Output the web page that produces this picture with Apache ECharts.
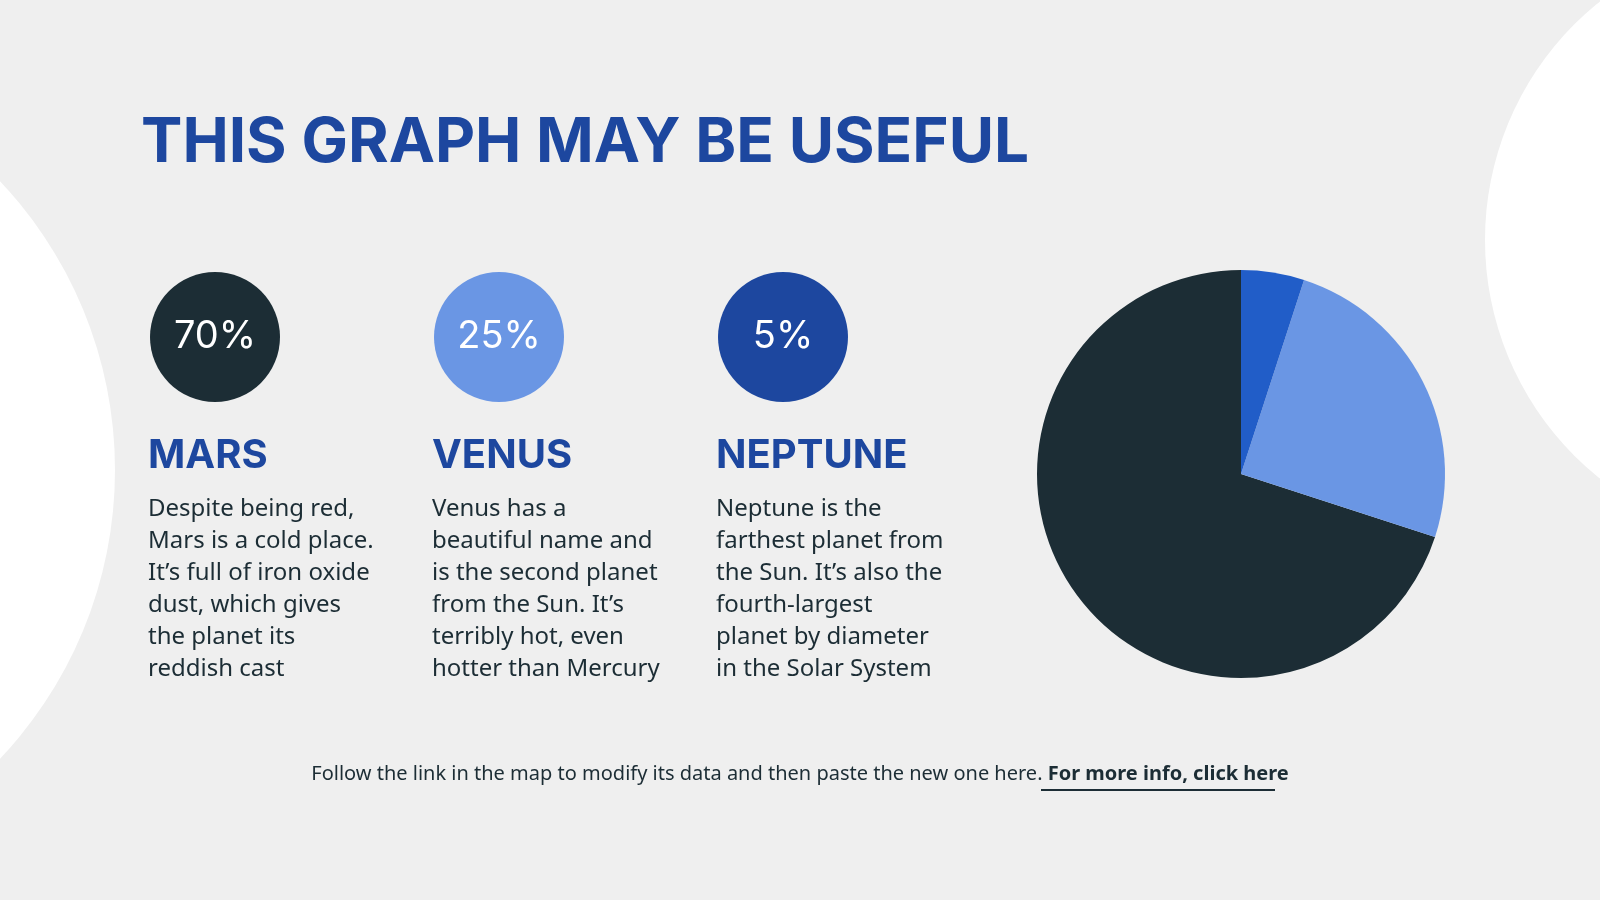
<!DOCTYPE html>
<html lang="en">
<head>
  <meta charset="UTF-8">
  <title>This graph may be useful</title>
  <script src="https://cdn.jsdelivr.net/npm/echarts@6/dist/echarts.min.js"></script>
  <style>
    html, body { margin: 0; padding: 0; background: #efefef; }
    #main { width: 1600px; height: 900px; }
  </style>
</head>
<body>
  <div id="main"></div>
  <script type="text/javascript">
    var planets = ['Mars', 'Venus', 'Neptune'];
    var shares = [70, 25, 5];
    var pieColors = ['#1c2d35', '#6a96e4', '#215dc8'];
    var badgeColors = ['#1c2d35', '#6a96e4', '#1d479f'];
    var descriptions = [
      ['Despite being red,', 'Mars is a cold place.', 'It\u2019s full of iron oxide', 'dust, which gives', 'the planet its', 'reddish cast'],
      ['Venus has a', 'beautiful name and', 'is the second planet', 'from the Sun. It\u2019s', 'terribly hot, even', 'hotter than Mercury'],
      ['Neptune is the', 'farthest planet from', 'the Sun. It\u2019s also the', 'fourth-largest', 'planet by diameter', 'in the Solar System']
    ];

    var titleFont = 'Inter, Roboto, sans-serif';
    var bodyFont = '"Noto Sans", "Open Sans", sans-serif';

    var graphics = [
      { type: 'circle', shape: { cx: -305, cy: 470, r: 420 }, style: { fill: '#ffffff' }, z: 0 },
      { type: 'circle', shape: { cx: 1790, cy: 240, r: 305 }, style: { fill: '#ffffff' }, z: 0 },
      { type: 'text', left: 141, top: 112, style: { text: 'THIS GRAPH MAY BE USEFUL', font: 'bold 62px ' + titleFont, fill: '#1d479f' } },
      { type: 'text', left: 'center', top: 764, style: {
          text: '{a|Follow the link in the map to modify its data and then paste the new one here. }{b|For more info, click here}',
          rich: {
            a: { font: '20px ' + bodyFont, fill: '#1c2d35' },
            b: { font: 'bold 20px ' + bodyFont, fill: '#1c2d35', textDecoration: 'underline' }
          }
        } }
    ];
    // underline for link
    graphics.push({ type: 'line', shape: { x1: 1041, y1: 790, x2: 1275, y2: 790 }, style: { stroke: '#1c2d35', lineWidth: 2 } });

    var colX = [148, 432, 716];
    planets.forEach(function (name, i) {
      var cx = colX[i] + 67;
      graphics.push({ type: 'circle', shape: { cx: cx, cy: 337, r: 65 }, style: { fill: badgeColors[i] } });
      graphics.push({ type: 'text', x: cx, y: 337, style: { text: shares[i] + '%', font: '38px ' + titleFont, fill: '#ffffff', align: 'center', verticalAlign: 'middle' } });
      graphics.push({ type: 'text', x: colX[i], y: 456, style: { text: name.toUpperCase(), font: 'bold 40px ' + titleFont, fill: '#1d479f', verticalAlign: 'middle' } });
      descriptions[i].forEach(function (line, j) {
        graphics.push({ type: 'text', x: colX[i], y: 509 + j * 32, style: { text: line, font: '24px ' + bodyFont, fill: '#1c2d35', verticalAlign: 'middle' } });
      });
    });

    var chart = echarts.init(document.getElementById('main'));
    chart.setOption({
      backgroundColor: '#efefef',
      animation: false,
      graphic: graphics,
      series: [{
        type: 'pie',
        center: [1241, 474],
        radius: [0, 204],
        startAngle: 90,
        clockwise: false,
        label: { show: false },
        labelLine: { show: false },
        itemStyle: { borderWidth: 0 },
        data: planets.map(function (n, i) {
          return { name: n, value: shares[i], itemStyle: { color: pieColors[i] } };
        })
      }]
    });
  </script>
</body>
</html>
